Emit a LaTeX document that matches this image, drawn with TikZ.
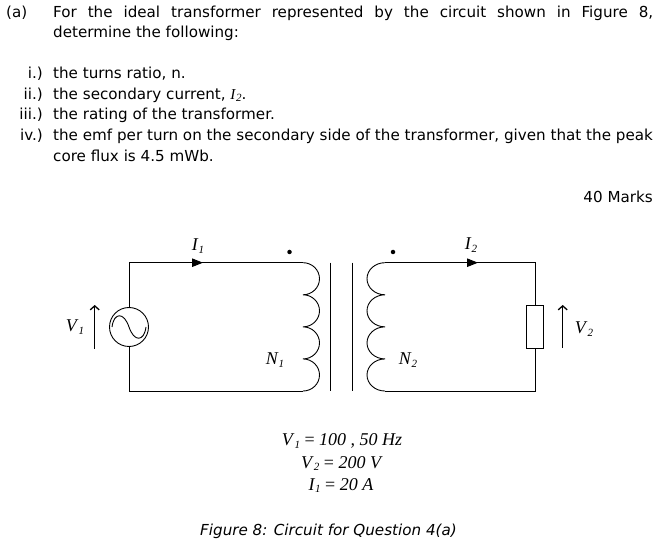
\documentclass[tikz,border=0pt]{standalone}
\usepackage{fontspec}
\setmainfont{Liberation Serif}
\newfontfamily\bodyfont{DejaVu Sans}
\usetikzlibrary{arrows.meta}
\newcommand{\sublab}[2]{\textit{#1}\raisebox{-2.5pt}{\fontsize{11}{11}\selectfont\textit{#2}}}
\begin{document}
\begin{tikzpicture}[x=1pt, y=-1pt,
    body/.style={font=\bodyfont\fontsize{15.15}{20}\selectfont, anchor=base west, inner sep=0pt},
    bodyright/.style={body, anchor=base east},
    circlab/.style={font=\fontsize{18}{20}\selectfont, inner sep=0pt},
    given/.style={font=\fontsize{18}{20}\selectfont, anchor=base, inner sep=0pt},
    wire/.style={line width=0.9pt},
    volt/.style={line width=1.3pt, -{Straight Barb[length=4pt, width=9pt]}},
    amp/.style={wire, -{Triangle[length=11pt, width=8.5pt]}},
    blob/.style={circle, fill=black, inner sep=0pt, minimum size=4.5pt},
    lobea/.style={x radius=16.5pt, y radius=16.04pt, start angle=90, end angle=-90},
    lobeb/.style={x radius=18pt, y radius=16.04pt, start angle=90, end angle=270}]
  \useasboundingbox (0,0) rectangle (659,545);
  % question text
  \node[body] (part) at (6,17.5) {(a)};
  \node[body, text width=600pt, align=justify] (intro) at (53,17.5)
    {For the ideal transformer represented by the circuit shown in Figure 8,\linebreak determine the following:};
  \node[bodyright] (i1) at (43,79) {i.)};
  \node[body] (t1) at (53,79) {the turns ratio, n.};
  \node[bodyright] (i2) at (43,99.5) {ii.)};
  \node[body] (t2) at (53,99.5) {the secondary current, {\rmfamily\sublab{I}{2}}.};
  \node[bodyright] (i3) at (43,120) {iii.)};
  \node[body] (t3) at (53,120) {the rating of the transformer.};
  \node[bodyright] (i4) at (43,141) {iv.)};
  \node[body] (t4) at (53,141) {the emf per turn on the secondary side of the transformer, given that the peak};
  \node[body] (t5) at (53,161.5) {core flux is 4.5 mWb.};
  \node[bodyright] (marks) at (653,203) {40 Marks};
  % primary side
  \node[circle, draw, wire, minimum size=39pt, inner sep=0pt] (source) at (129,327) {};
  \coordinate (wl) at (112,327);
  \coordinate (wr) at (146,327);
  \draw[wire] (wl) .. controls +(2,-15) and +(-5,-15) .. (source.center)
    .. controls +(5,15) and +(-2,15) .. (wr);
  \coordinate (p0) at (303,262.7);
  \coordinate (p4) at (303,391);
  \coordinate (tipa) at (203,262.7);
  \draw[wire] (source.north) |- (p0);
  \draw[wire] (source.south) |- (p4);
  \draw[amp] (source.north |- p0) -- (tipa);
  \draw[wire] (p0) arc[lobea] arc[lobea] arc[lobea] arc[lobea];
  % core
  \coordinate (ca) at (330.5,262.7);
  \coordinate (cb) at (330.5,391);
  \coordinate (cc) at (352,262.7);
  \coordinate (cd) at (352,391);
  \draw[wire] (ca) -- (cb);
  \draw[wire] (cc) -- (cd);
  % secondary side
  \node[draw, wire, fill=white, minimum width=17.5pt, minimum height=43pt, inner sep=0pt] (load) at (535,326.5) {};
  \coordinate (s0) at (385,262.7);
  \coordinate (s4) at (385,391);
  \coordinate (tipb) at (478,262.7);
  \draw[wire] (load.north) |- (s0);
  \draw[wire] (load.south) |- (s4);
  \draw[amp] (s0) -- (tipb);
  \draw[wire] (s0) arc[lobeb] arc[lobeb] arc[lobeb] arc[lobeb];
  % dots and voltage arrows
  \node[blob] (dota) at (289.5,252) {};
  \node[blob] (dotb) at (393,252) {};
  \coordinate (va) at (94.7,349);
  \coordinate (vb) at (94.7,305);
  \coordinate (vc) at (562.7,348);
  \coordinate (vd) at (562.7,305);
  \draw[volt] (va) -- (vb);
  \draw[volt] (vc) -- (vd);
  % labels
  \node[circlab] (lab1) at (198,246) {\sublab{I}{1}};
  \node[circlab] (lab2) at (471,245) {\sublab{I}{2}};
  \node[circlab] (lab3) at (75,327) {\sublab{V}{1}};
  \node[circlab] (lab4) at (584,329) {\sublab{V}{2}};
  \node[circlab] (lab5) at (275,360) {\sublab{N}{1}};
  \node[circlab] (lab6) at (408,360) {\sublab{N}{2}};
  % given values and caption
  \node[given] (eq1) at (342,446) {\sublab{V}{1} = \textit{100 , 50 Hz}};
  \node[given] (eq2) at (342,468) {\sublab{V}{2} = \textit{200 V}};
  \node[given] (eq3) at (341,490) {\sublab{I}{1} = \textit{20 A}};
  \node[body, anchor=base] (caption) at (328.5,535.5) {\itshape Figure 8: Circuit for Question 4(a)};
\end{tikzpicture}
\end{document}
